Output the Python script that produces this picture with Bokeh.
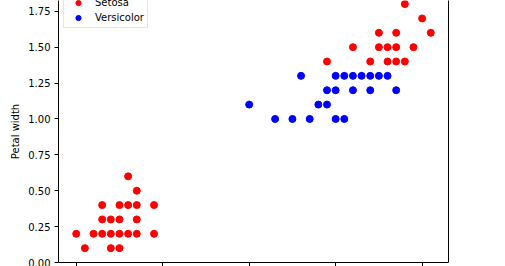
from bokeh.plotting import figure
from bokeh.models import (Range1d, FixedTicker, NumeralTickFormatter, LinearAxis, Legend,
                          LegendItem, CustomJSTickFormatter)
from bokeh.embed import file_html
from bokeh.resources import INLINE

# Petal length (x) and petal width (y)
setosa_x = [1.1, 1.4, 1.5,
            1.0, 1.2, 1.3, 1.4, 1.5, 1.6, 1.7, 1.9,
            1.3, 1.4, 1.5, 1.7,
            1.3, 1.5, 1.6, 1.7, 1.9,
            1.7, 1.6,
            3.9, 4.4, 4.6, 4.7, 4.8,
            4.2, 4.5, 4.6, 4.7, 4.9,
            4.5, 4.7, 5.1,
            5.0, 4.8]
setosa_y = [0.1, 0.1, 0.1,
            0.2, 0.2, 0.2, 0.2, 0.2, 0.2, 0.2, 0.2,
            0.3, 0.3, 0.3, 0.3,
            0.4, 0.4, 0.4, 0.4, 0.4,
            0.5, 0.6,
            1.4, 1.4, 1.4, 1.4, 1.4,
            1.5, 1.5, 1.5, 1.5, 1.5,
            1.6, 1.6, 1.6,
            1.7, 1.8]

versicolor_x = [3.3, 3.5, 3.7, 4.0, 4.1,
                3.0, 3.8, 3.9,
                3.9, 4.0, 4.2, 4.4, 4.7,
                3.6, 4.0, 4.1, 4.2, 4.3, 4.4, 4.5, 4.6]
versicolor_y = [1.0, 1.0, 1.0, 1.0, 1.0,
                1.1, 1.1, 1.1,
                1.2, 1.2, 1.2, 1.2, 1.2,
                1.3, 1.3, 1.3, 1.3, 1.3, 1.3, 1.3, 1.3]

y_ticks = [0.0, 0.25, 0.5, 0.75, 1.0, 1.25, 1.5, 1.75]
x_ticks = [1, 2, 3, 4, 5]
y_label = "Petal width"
series_names = ["Setosa", "Versicolor"]

FONT = "DejaVu Sans"

p = figure(width=505, height=266, output_backend="svg", toolbar_location=None,
           x_range=Range1d(0.795, 5.305), y_range=Range1d(0.0, 1.825),
           min_border_left=58, min_border_right=57, min_border_top=0, min_border_bottom=0,
           x_axis_type=None, y_axis_type=None)
p.grid.visible = False
p.outline_line_color = None
p.background_fill_color = "white"
p.border_fill_color = "white"

# left axis
yax = LinearAxis(ticker=FixedTicker(ticks=y_ticks), formatter=NumeralTickFormatter(format="0.00"),
                 axis_label=y_label)
yax.axis_line_color = "black"
yax.major_tick_line_color = "black"
yax.major_tick_out = 4
yax.major_tick_in = 0
yax.minor_tick_line_color = None
yax.major_label_text_font = FONT
yax.major_label_text_font_size = "10px"
yax.major_label_text_color = "black"
yax.major_label_standoff = 4
yax.axis_label_text_font = FONT
yax.axis_label_text_font_size = "10px"
yax.axis_label_text_font_style = "normal"
yax.axis_label_text_color = "black"
yax.axis_label_standoff = 4
p.add_layout(yax, "left")

# bottom axis: its tick labels lie below the visible area, so only ticks are drawn
xax = LinearAxis(ticker=FixedTicker(ticks=x_ticks),
                 formatter=CustomJSTickFormatter(code="return ''"))
xax.axis_line_color = "black"
xax.major_tick_line_color = "black"
xax.major_tick_out = 4
xax.major_tick_in = 0
xax.minor_tick_line_color = None
xax.major_label_text_font_size = "0px"
xax.major_label_standoff = 0
p.add_layout(xax, "below")

# right spine
rax = LinearAxis(ticker=FixedTicker(ticks=[]))
rax.axis_line_color = "black"
rax.major_tick_line_color = None
rax.minor_tick_line_color = None
rax.major_label_text_font_size = "0px"
rax.major_label_standoff = 0
p.add_layout(rax, "right")

r1 = p.scatter(setosa_x, setosa_y, size=7, color="#ff0000", line_color="#ff0000")
r2 = p.scatter(versicolor_x, versicolor_y, size=7, color="#0000ff", line_color="#0000ff")

legend = Legend(items=[LegendItem(label=series_names[0], renderers=[r1]),
                       LegendItem(label=series_names[1], renderers=[r2])],
                location=(5, 234))
legend.label_text_font = FONT
legend.label_text_font_size = "10px"
legend.label_text_color = "black"
legend.label_height = 13
legend.glyph_height = 13
legend.glyph_width = 22
legend.spacing = 2
legend.padding = 3
legend.margin = 0
legend.label_standoff = 6
legend.border_line_color = "#cccccc"
legend.background_fill_alpha = 0.8
p.add_layout(legend)

open("out.html", "w").write(file_html(p, INLINE))
